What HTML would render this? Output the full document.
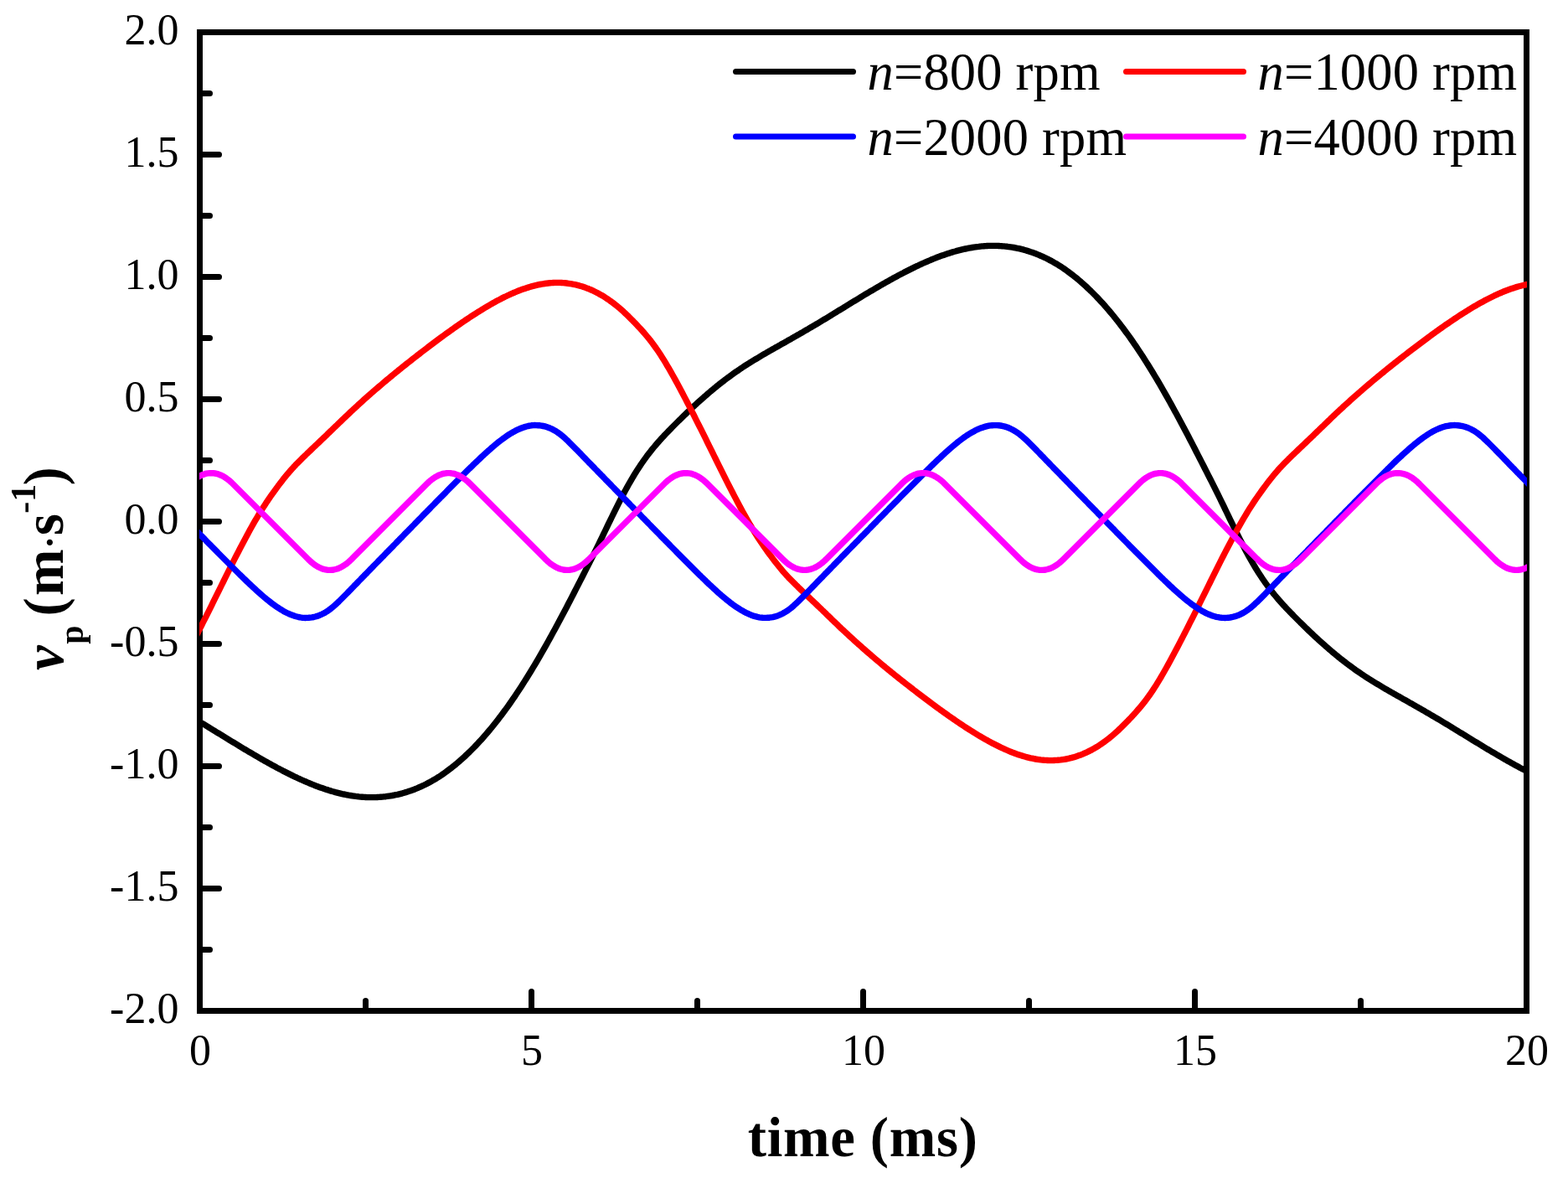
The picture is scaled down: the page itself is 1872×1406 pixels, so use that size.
<!DOCTYPE html>
<html lang="en"><head><meta charset="utf-8"><title>Piston velocity vs time</title>
<style>html,body{margin:0;padding:0;background:#fff;overflow:hidden}svg{display:block}text{font-family:"Liberation Serif","DejaVu Serif",serif;fill:#000}.tk{font-size:52px}.lg{font-size:62.5px}.ti{font-size:66.7px;font-weight:bold}</style></head><body>
<svg width="1872" height="1406" viewBox="0 0 1872 1406">
<rect x="0" y="0" width="1872" height="1406" fill="#fff"/>
<g stroke="#000" stroke-width="7" stroke-linecap="round" fill="none">
<line x1="436.50" y1="1206.5" x2="436.50" y2="1194.50"/>
<line x1="634.50" y1="1206.5" x2="634.50" y2="1183.50"/>
<line x1="832.50" y1="1206.5" x2="832.50" y2="1194.50"/>
<line x1="1030.50" y1="1206.5" x2="1030.50" y2="1183.50"/>
<line x1="1228.50" y1="1206.5" x2="1228.50" y2="1194.50"/>
<line x1="1426.50" y1="1206.5" x2="1426.50" y2="1183.50"/>
<line x1="1624.50" y1="1206.5" x2="1624.50" y2="1194.50"/>
<line x1="238.5" y1="111.50" x2="250.50" y2="111.50"/>
<line x1="238.5" y1="184.50" x2="261.50" y2="184.50"/>
<line x1="238.5" y1="257.50" x2="250.50" y2="257.50"/>
<line x1="238.5" y1="330.50" x2="261.50" y2="330.50"/>
<line x1="238.5" y1="403.50" x2="250.50" y2="403.50"/>
<line x1="238.5" y1="476.50" x2="261.50" y2="476.50"/>
<line x1="238.5" y1="549.50" x2="250.50" y2="549.50"/>
<line x1="238.5" y1="622.50" x2="261.50" y2="622.50"/>
<line x1="238.5" y1="695.50" x2="250.50" y2="695.50"/>
<line x1="238.5" y1="768.50" x2="261.50" y2="768.50"/>
<line x1="238.5" y1="841.50" x2="250.50" y2="841.50"/>
<line x1="238.5" y1="914.50" x2="261.50" y2="914.50"/>
<line x1="238.5" y1="987.50" x2="250.50" y2="987.50"/>
<line x1="238.5" y1="1060.50" x2="261.50" y2="1060.50"/>
<line x1="238.5" y1="1133.50" x2="250.50" y2="1133.50"/>
</g>
<rect x="238.5" y="38.5" width="1584.0" height="1168.0" fill="none" stroke="#000" stroke-width="7"/>
<defs><clipPath id="pa"><rect x="238" y="38.5" width="1585" height="1168.0"/></clipPath></defs>
<g clip-path="url(#pa)" fill="none" stroke-width="7.4" stroke-linejoin="round" stroke-linecap="butt">
<path d="M234.5 859.2L236.5 860.4L238.5 861.6L240.5 862.8L242.5 864.0L244.5 865.2L246.5 866.4L248.5 867.6L250.5 868.9L252.5 870.1L254.5 871.3L256.5 872.5L258.5 873.8L260.5 875.0L262.5 876.2L264.5 877.4L266.5 878.7L268.5 879.9L270.5 881.1L272.5 882.3L274.5 883.6L276.5 884.8L278.5 886.0L280.5 887.2L282.5 888.4L284.5 889.6L286.5 890.9L288.5 892.1L290.5 893.3L292.5 894.5L294.5 895.7L296.5 896.9L298.5 898.0L300.5 899.2L302.5 900.4L304.5 901.6L306.5 902.7L308.5 903.9L310.5 905.1L312.5 906.2L314.5 907.3L316.5 908.5L318.5 909.6L320.5 910.7L322.5 911.8L324.5 912.9L326.5 914.0L328.5 915.1L330.5 916.2L332.5 917.2L334.5 918.3L336.5 919.3L338.5 920.4L340.5 921.4L342.5 922.4L344.5 923.4L346.5 924.4L348.5 925.4L350.5 926.4L352.5 927.3L354.5 928.2L356.5 929.2L358.5 930.1L360.5 931.0L362.5 931.9L364.5 932.7L366.5 933.6L368.5 934.4L370.5 935.3L372.5 936.1L374.5 936.9L376.5 937.7L378.5 938.4L380.5 939.2L382.5 939.9L384.5 940.6L386.5 941.3L388.5 942.0L390.5 942.6L392.5 943.3L394.5 943.9L396.5 944.5L398.5 945.0L400.5 945.6L402.5 946.1L404.5 946.6L406.5 947.1L408.5 947.6L410.5 948.0L412.5 948.4L414.5 948.8L416.5 949.2L418.5 949.5L420.5 949.8L422.5 950.1L424.5 950.4L426.5 950.6L428.5 950.9L430.5 951.1L432.5 951.2L434.5 951.4L436.5 951.5L438.5 951.6L440.5 951.6L442.5 951.6L444.5 951.6L446.5 951.6L448.5 951.6L450.5 951.5L452.5 951.4L454.5 951.2L456.5 951.1L458.5 950.9L460.5 950.7L462.5 950.4L464.5 950.1L466.5 949.8L468.5 949.5L470.5 949.1L472.5 948.7L474.5 948.3L476.5 947.8L478.5 947.3L480.5 946.8L482.5 946.2L484.5 945.6L486.5 945.0L488.5 944.3L490.5 943.7L492.5 942.9L494.5 942.2L496.5 941.4L498.5 940.6L500.5 939.7L502.5 938.8L504.5 937.9L506.5 937.0L508.5 936.0L510.5 934.9L512.5 933.9L514.5 932.8L516.5 931.6L518.5 930.5L520.5 929.3L522.5 928.0L524.5 926.8L526.5 925.5L528.5 924.1L530.5 922.7L532.5 921.3L534.5 919.8L536.5 918.3L538.5 916.8L540.5 915.2L542.5 913.6L544.5 912.0L546.5 910.3L548.5 908.6L550.5 906.8L552.5 905.0L554.5 903.2L556.5 901.3L558.5 899.4L560.5 897.5L562.5 895.5L564.5 893.5L566.5 891.5L568.5 889.4L570.5 887.3L572.5 885.1L574.5 882.9L576.5 880.7L578.5 878.4L580.5 876.1L582.5 873.8L584.5 871.4L586.5 869.0L588.5 866.5L590.5 864.0L592.5 861.5L594.5 858.9L596.5 856.3L598.5 853.7L600.5 851.0L602.5 848.3L604.5 845.6L606.5 842.8L608.5 840.0L610.5 837.1L612.5 834.2L614.5 831.3L616.5 828.3L618.5 825.3L620.5 822.3L622.5 819.2L624.5 816.1L626.5 812.9L628.5 809.7L630.5 806.5L632.5 803.3L634.5 800.0L636.5 796.7L638.5 793.3L640.5 790.0L642.5 786.6L644.5 783.1L646.5 779.7L648.5 776.2L650.5 772.6L652.5 769.1L654.5 765.5L656.5 761.9L658.5 758.3L660.5 754.6L662.5 751.0L664.5 747.3L666.5 743.6L668.5 739.8L670.5 736.1L672.5 732.3L674.5 728.5L676.5 724.7L678.5 720.8L680.5 717.0L682.5 713.1L684.5 709.2L686.5 705.3L688.5 701.4L690.5 697.5L692.5 693.6L694.5 689.7L696.5 685.8L698.5 681.9L700.5 677.9L702.5 674.0L704.5 670.1L706.5 666.1L708.5 662.1L710.5 658.1L712.5 654.1L714.5 650.0L716.5 645.9L718.5 641.8L720.5 637.6L722.5 633.5L724.5 629.3L726.5 625.2L728.5 621.1L730.5 617.0L732.5 612.9L734.5 608.9L736.5 604.9L738.5 600.9L740.5 597.0L742.5 593.1L744.5 589.3L746.5 585.5L748.5 581.9L750.5 578.3L752.5 574.8L754.5 571.3L756.5 568.0L758.5 564.7L760.5 561.6L762.5 558.5L764.5 555.4L766.5 552.5L768.5 549.6L770.5 546.9L772.5 544.1L774.5 541.5L776.5 538.9L778.5 536.4L780.5 534.0L782.5 531.6L784.5 529.3L786.5 527.0L788.5 524.8L790.5 522.6L792.5 520.4L794.5 518.3L796.5 516.2L798.5 514.1L800.5 512.1L802.5 510.0L804.5 508.0L806.5 506.0L808.5 504.0L810.5 502.0L812.5 500.1L814.5 498.1L816.5 496.1L818.5 494.2L820.5 492.3L822.5 490.4L824.5 488.5L826.5 486.6L828.5 484.8L830.5 482.9L832.5 481.1L834.5 479.3L836.5 477.5L838.5 475.7L840.5 473.9L842.5 472.2L844.5 470.4L846.5 468.7L848.5 467.0L850.5 465.4L852.5 463.7L854.5 462.1L856.5 460.4L858.5 458.8L860.5 457.3L862.5 455.7L864.5 454.2L866.5 452.6L868.5 451.1L870.5 449.7L872.5 448.2L874.5 446.8L876.5 445.3L878.5 443.9L880.5 442.6L882.5 441.2L884.5 439.8L886.5 438.5L888.5 437.2L890.5 435.9L892.5 434.6L894.5 433.4L896.5 432.1L898.5 430.9L900.5 429.7L902.5 428.5L904.5 427.3L906.5 426.1L908.5 424.9L910.5 423.7L912.5 422.5L914.5 421.4L916.5 420.2L918.5 419.1L920.5 417.9L922.5 416.8L924.5 415.7L926.5 414.5L928.5 413.4L930.5 412.3L932.5 411.1L934.5 410.0L936.5 408.9L938.5 407.8L940.5 406.6L942.5 405.5L944.5 404.4L946.5 403.2L948.5 402.1L950.5 400.9L952.5 399.8L954.5 398.7L956.5 397.5L958.5 396.4L960.5 395.2L962.5 394.0L964.5 392.9L966.5 391.7L968.5 390.5L970.5 389.3L972.5 388.2L974.5 387.0L976.5 385.8L978.5 384.6L980.5 383.4L982.5 382.2L984.5 381.0L986.5 379.8L988.5 378.6L990.5 377.4L992.5 376.1L994.5 374.9L996.5 373.7L998.5 372.5L1000.5 371.2L1002.5 370.0L1004.5 368.8L1006.5 367.6L1008.5 366.3L1010.5 365.1L1012.5 363.9L1014.5 362.7L1016.5 361.4L1018.5 360.2L1020.5 359.0L1022.5 357.8L1024.5 356.6L1026.5 355.4L1028.5 354.1L1030.5 352.9L1032.5 351.7L1034.5 350.5L1036.5 349.3L1038.5 348.1L1040.5 347.0L1042.5 345.8L1044.5 344.6L1046.5 343.4L1048.5 342.3L1050.5 341.1L1052.5 339.9L1054.5 338.8L1056.5 337.7L1058.5 336.5L1060.5 335.4L1062.5 334.3L1064.5 333.2L1066.5 332.1L1068.5 331.0L1070.5 329.9L1072.5 328.8L1074.5 327.8L1076.5 326.7L1078.5 325.7L1080.5 324.6L1082.5 323.6L1084.5 322.6L1086.5 321.6L1088.5 320.6L1090.5 319.6L1092.5 318.6L1094.5 317.7L1096.5 316.8L1098.5 315.8L1100.5 314.9L1102.5 314.0L1104.5 313.1L1106.5 312.3L1108.5 311.4L1110.5 310.6L1112.5 309.7L1114.5 308.9L1116.5 308.1L1118.5 307.3L1120.5 306.6L1122.5 305.8L1124.5 305.1L1126.5 304.4L1128.5 303.7L1130.5 303.0L1132.5 302.4L1134.5 301.7L1136.5 301.1L1138.5 300.5L1140.5 300.0L1142.5 299.4L1144.5 298.9L1146.5 298.4L1148.5 297.9L1150.5 297.4L1152.5 297.0L1154.5 296.6L1156.5 296.2L1158.5 295.8L1160.5 295.5L1162.5 295.2L1164.5 294.9L1166.5 294.6L1168.5 294.4L1170.5 294.1L1172.5 293.9L1174.5 293.8L1176.5 293.6L1178.5 293.5L1180.5 293.4L1182.5 293.4L1184.5 293.4L1186.5 293.4L1188.5 293.4L1190.5 293.4L1192.5 293.5L1194.5 293.6L1196.5 293.8L1198.5 293.9L1200.5 294.1L1202.5 294.3L1204.5 294.6L1206.5 294.9L1208.5 295.2L1210.5 295.5L1212.5 295.9L1214.5 296.3L1216.5 296.7L1218.5 297.2L1220.5 297.7L1222.5 298.2L1224.5 298.8L1226.5 299.4L1228.5 300.0L1230.5 300.7L1232.5 301.3L1234.5 302.1L1236.5 302.8L1238.5 303.6L1240.5 304.4L1242.5 305.3L1244.5 306.2L1246.5 307.1L1248.5 308.0L1250.5 309.0L1252.5 310.1L1254.5 311.1L1256.5 312.2L1258.5 313.4L1260.5 314.5L1262.5 315.7L1264.5 317.0L1266.5 318.2L1268.5 319.5L1270.5 320.9L1272.5 322.3L1274.5 323.7L1276.5 325.2L1278.5 326.7L1280.5 328.2L1282.5 329.8L1284.5 331.4L1286.5 333.0L1288.5 334.7L1290.5 336.4L1292.5 338.2L1294.5 340.0L1296.5 341.8L1298.5 343.7L1300.5 345.6L1302.5 347.5L1304.5 349.5L1306.5 351.5L1308.5 353.5L1310.5 355.6L1312.5 357.7L1314.5 359.9L1316.5 362.1L1318.5 364.3L1320.5 366.6L1322.5 368.9L1324.5 371.2L1326.5 373.6L1328.5 376.0L1330.5 378.5L1332.5 381.0L1334.5 383.5L1336.5 386.1L1338.5 388.7L1340.5 391.3L1342.5 394.0L1344.5 396.7L1346.5 399.4L1348.5 402.2L1350.5 405.0L1352.5 407.9L1354.5 410.8L1356.5 413.7L1358.5 416.7L1360.5 419.7L1362.5 422.7L1364.5 425.8L1366.5 428.9L1368.5 432.1L1370.5 435.3L1372.5 438.5L1374.5 441.7L1376.5 445.0L1378.5 448.3L1380.5 451.7L1382.5 455.0L1384.5 458.4L1386.5 461.9L1388.5 465.3L1390.5 468.8L1392.5 472.4L1394.5 475.9L1396.5 479.5L1398.5 483.1L1400.5 486.7L1402.5 490.4L1404.5 494.0L1406.5 497.7L1408.5 501.4L1410.5 505.2L1412.5 508.9L1414.5 512.7L1416.5 516.5L1418.5 520.3L1420.5 524.2L1422.5 528.0L1424.5 531.9L1426.5 535.8L1428.5 539.7L1430.5 543.6L1432.5 547.5L1434.5 551.4L1436.5 555.3L1438.5 559.2L1440.5 563.1L1442.5 567.1L1444.5 571.0L1446.5 574.9L1448.5 578.9L1450.5 582.9L1452.5 586.9L1454.5 590.9L1456.5 595.0L1458.5 599.1L1460.5 603.2L1462.5 607.4L1464.5 611.5L1466.5 615.7L1468.5 619.8L1470.5 623.9L1472.5 628.0L1474.5 632.1L1476.5 636.1L1478.5 640.1L1480.5 644.1L1482.5 648.0L1484.5 651.9L1486.5 655.7L1488.5 659.5L1490.5 663.1L1492.5 666.7L1494.5 670.2L1496.5 673.7L1498.5 677.0L1500.5 680.3L1502.5 683.4L1504.5 686.5L1506.5 689.6L1508.5 692.5L1510.5 695.4L1512.5 698.1L1514.5 700.9L1516.5 703.5L1518.5 706.1L1520.5 708.6L1522.5 711.0L1524.5 713.4L1526.5 715.7L1528.5 718.0L1530.5 720.2L1532.5 722.4L1534.5 724.6L1536.5 726.7L1538.5 728.8L1540.5 730.9L1542.5 732.9L1544.5 735.0L1546.5 737.0L1548.5 739.0L1550.5 741.0L1552.5 743.0L1554.5 744.9L1556.5 746.9L1558.5 748.9L1560.5 750.8L1562.5 752.7L1564.5 754.6L1566.5 756.5L1568.5 758.4L1570.5 760.2L1572.5 762.1L1574.5 763.9L1576.5 765.7L1578.5 767.5L1580.5 769.3L1582.5 771.1L1584.5 772.8L1586.5 774.6L1588.5 776.3L1590.5 778.0L1592.5 779.6L1594.5 781.3L1596.5 782.9L1598.5 784.6L1600.5 786.2L1602.5 787.7L1604.5 789.3L1606.5 790.8L1608.5 792.4L1610.5 793.9L1612.5 795.3L1614.5 796.8L1616.5 798.2L1618.5 799.7L1620.5 801.1L1622.5 802.4L1624.5 803.8L1626.5 805.2L1628.5 806.5L1630.5 807.8L1632.5 809.1L1634.5 810.4L1636.5 811.6L1638.5 812.9L1640.5 814.1L1642.5 815.3L1644.5 816.5L1646.5 817.7L1648.5 818.9L1650.5 820.1L1652.5 821.3L1654.5 822.5L1656.5 823.6L1658.5 824.8L1660.5 825.9L1662.5 827.1L1664.5 828.2L1666.5 829.3L1668.5 830.5L1670.5 831.6L1672.5 832.7L1674.5 833.9L1676.5 835.0L1678.5 836.1L1680.5 837.2L1682.5 838.4L1684.5 839.5L1686.5 840.6L1688.5 841.8L1690.5 842.9L1692.5 844.1L1694.5 845.2L1696.5 846.3L1698.5 847.5L1700.5 848.6L1702.5 849.8L1704.5 851.0L1706.5 852.1L1708.5 853.3L1710.5 854.5L1712.5 855.7L1714.5 856.8L1716.5 858.0L1718.5 859.2L1720.5 860.4L1722.5 861.6L1724.5 862.8L1726.5 864.0L1728.5 865.2L1730.5 866.4L1732.5 867.6L1734.5 868.9L1736.5 870.1L1738.5 871.3L1740.5 872.5L1742.5 873.8L1744.5 875.0L1746.5 876.2L1748.5 877.4L1750.5 878.7L1752.5 879.9L1754.5 881.1L1756.5 882.3L1758.5 883.6L1760.5 884.8L1762.5 886.0L1764.5 887.2L1766.5 888.4L1768.5 889.6L1770.5 890.9L1772.5 892.1L1774.5 893.3L1776.5 894.5L1778.5 895.7L1780.5 896.9L1782.5 898.0L1784.5 899.2L1786.5 900.4L1788.5 901.6L1790.5 902.7L1792.5 903.9L1794.5 905.1L1796.5 906.2L1798.5 907.3L1800.5 908.5L1802.5 909.6L1804.5 910.7L1806.5 911.8L1808.5 912.9L1810.5 914.0L1812.5 915.1L1814.5 916.2L1816.5 917.2L1818.5 918.3L1820.5 919.3L1822.5 920.4L1824.5 921.4L1826.5 922.4" stroke="#000000"/>
<path d="M234.5 758.4L236.5 754.5L238.5 750.6L240.5 746.7L242.5 742.7L244.5 738.8L246.5 734.8L248.5 730.8L250.5 726.8L252.5 722.8L254.5 718.7L256.5 714.7L258.5 710.7L260.5 706.6L262.5 702.6L264.5 698.5L266.5 694.5L268.5 690.4L270.5 686.4L272.5 682.3L274.5 678.3L276.5 674.3L278.5 670.4L280.5 666.4L282.5 662.5L284.5 658.7L286.5 654.8L288.5 651.0L290.5 647.2L292.5 643.5L294.5 639.7L296.5 636.0L298.5 632.3L300.5 628.7L302.5 625.2L304.5 621.7L306.5 618.3L308.5 614.9L310.5 611.6L312.5 608.4L314.5 605.3L316.5 602.2L318.5 599.1L320.5 596.2L322.5 593.2L324.5 590.4L326.5 587.6L328.5 584.8L330.5 582.1L332.5 579.4L334.5 576.8L336.5 574.2L338.5 571.6L340.5 569.1L342.5 566.7L344.5 564.3L346.5 562.0L348.5 559.7L350.5 557.6L352.5 555.4L354.5 553.3L356.5 551.3L358.5 549.3L360.5 547.3L362.5 545.4L364.5 543.5L366.5 541.5L368.5 539.6L370.5 537.7L372.5 535.8L374.5 533.9L376.5 532.0L378.5 530.1L380.5 528.2L382.5 526.3L384.5 524.4L386.5 522.5L388.5 520.6L390.5 518.7L392.5 516.7L394.5 514.8L396.5 512.9L398.5 510.9L400.5 509.0L402.5 507.1L404.5 505.1L406.5 503.2L408.5 501.3L410.5 499.4L412.5 497.5L414.5 495.6L416.5 493.7L418.5 491.8L420.5 489.9L422.5 488.1L424.5 486.2L426.5 484.4L428.5 482.5L430.5 480.7L432.5 478.9L434.5 477.1L436.5 475.3L438.5 473.6L440.5 471.8L442.5 470.0L444.5 468.3L446.5 466.5L448.5 464.8L450.5 463.1L452.5 461.4L454.5 459.7L456.5 458.0L458.5 456.3L460.5 454.6L462.5 452.9L464.5 451.3L466.5 449.6L468.5 448.0L470.5 446.3L472.5 444.7L474.5 443.1L476.5 441.4L478.5 439.8L480.5 438.2L482.5 436.6L484.5 435.0L486.5 433.4L488.5 431.9L490.5 430.3L492.5 428.7L494.5 427.1L496.5 425.6L498.5 424.0L500.5 422.5L502.5 420.9L504.5 419.4L506.5 417.9L508.5 416.4L510.5 414.8L512.5 413.3L514.5 411.8L516.5 410.3L518.5 408.8L520.5 407.3L522.5 405.8L524.5 404.3L526.5 402.8L528.5 401.4L530.5 399.9L532.5 398.4L534.5 397.0L536.5 395.6L538.5 394.1L540.5 392.7L542.5 391.3L544.5 389.9L546.5 388.5L548.5 387.1L550.5 385.7L552.5 384.3L554.5 383.0L556.5 381.6L558.5 380.3L560.5 379.0L562.5 377.7L564.5 376.4L566.5 375.1L568.5 373.8L570.5 372.5L572.5 371.3L574.5 370.1L576.5 368.8L578.5 367.6L580.5 366.4L582.5 365.3L584.5 364.1L586.5 362.9L588.5 361.8L590.5 360.7L592.5 359.6L594.5 358.5L596.5 357.5L598.5 356.4L600.5 355.4L602.5 354.4L604.5 353.5L606.5 352.5L608.5 351.6L610.5 350.7L612.5 349.8L614.5 349.0L616.5 348.1L618.5 347.3L620.5 346.5L622.5 345.8L624.5 345.1L626.5 344.4L628.5 343.7L630.5 343.1L632.5 342.5L634.5 341.9L636.5 341.4L638.5 340.9L640.5 340.4L642.5 339.9L644.5 339.5L646.5 339.1L648.5 338.8L650.5 338.5L652.5 338.2L654.5 338.0L656.5 337.8L658.5 337.6L660.5 337.5L662.5 337.4L664.5 337.4L666.5 337.4L668.5 337.4L670.5 337.5L672.5 337.6L674.5 337.8L676.5 338.0L678.5 338.3L680.5 338.6L682.5 338.9L684.5 339.3L686.5 339.7L688.5 340.1L690.5 340.6L692.5 341.2L694.5 341.8L696.5 342.4L698.5 343.1L700.5 343.9L702.5 344.6L704.5 345.5L706.5 346.3L708.5 347.2L710.5 348.2L712.5 349.2L714.5 350.3L716.5 351.4L718.5 352.5L720.5 353.7L722.5 355.0L724.5 356.3L726.5 357.6L728.5 359.1L730.5 360.5L732.5 362.0L734.5 363.6L736.5 365.2L738.5 366.8L740.5 368.5L742.5 370.3L744.5 372.1L746.5 374.0L748.5 375.9L750.5 377.8L752.5 379.8L754.5 381.8L756.5 383.9L758.5 385.9L760.5 388.0L762.5 390.2L764.5 392.3L766.5 394.5L768.5 396.8L770.5 399.1L772.5 401.5L774.5 403.9L776.5 406.4L778.5 409.0L780.5 411.7L782.5 414.5L784.5 417.3L786.5 420.3L788.5 423.3L790.5 426.4L792.5 429.6L794.5 432.9L796.5 436.3L798.5 439.7L800.5 443.1L802.5 446.7L804.5 450.3L806.5 453.9L808.5 457.6L810.5 461.3L812.5 465.0L814.5 468.8L816.5 472.6L818.5 476.4L820.5 480.3L822.5 484.1L824.5 488.0L826.5 491.9L828.5 495.8L830.5 499.8L832.5 503.8L834.5 507.7L836.5 511.7L838.5 515.7L840.5 519.7L842.5 523.7L844.5 527.8L846.5 531.8L848.5 535.8L850.5 539.9L852.5 544.0L854.5 548.0L856.5 552.1L858.5 556.1L860.5 560.2L862.5 564.2L864.5 568.2L866.5 572.2L868.5 576.1L870.5 580.0L872.5 583.9L874.5 587.8L876.5 591.6L878.5 595.4L880.5 599.2L882.5 602.9L884.5 606.7L886.5 610.4L888.5 614.0L890.5 617.6L892.5 621.1L894.5 624.6L896.5 628.0L898.5 631.3L900.5 634.6L902.5 637.8L904.5 640.9L906.5 644.0L908.5 647.0L910.5 649.9L912.5 652.8L914.5 655.7L916.5 658.5L918.5 661.2L920.5 663.9L922.5 666.6L924.5 669.2L926.5 671.8L928.5 674.3L930.5 676.8L932.5 679.2L934.5 681.6L936.5 683.9L938.5 686.1L940.5 688.2L942.5 690.4L944.5 692.4L946.5 694.4L948.5 696.4L950.5 698.4L952.5 700.3L954.5 702.3L956.5 704.2L958.5 706.1L960.5 708.0L962.5 709.9L964.5 711.8L966.5 713.7L968.5 715.6L970.5 717.5L972.5 719.4L974.5 721.3L976.5 723.2L978.5 725.1L980.5 727.0L982.5 729.0L984.5 730.9L986.5 732.8L988.5 734.8L990.5 736.7L992.5 738.7L994.5 740.6L996.5 742.5L998.5 744.4L1000.5 746.3L1002.5 748.3L1004.5 750.2L1006.5 752.0L1008.5 753.9L1010.5 755.8L1012.5 757.6L1014.5 759.5L1016.5 761.3L1018.5 763.1L1020.5 765.0L1022.5 766.8L1024.5 768.6L1026.5 770.3L1028.5 772.1L1030.5 773.9L1032.5 775.6L1034.5 777.4L1036.5 779.1L1038.5 780.8L1040.5 782.6L1042.5 784.3L1044.5 786.0L1046.5 787.7L1048.5 789.3L1050.5 791.0L1052.5 792.7L1054.5 794.4L1056.5 796.0L1058.5 797.7L1060.5 799.3L1062.5 800.9L1064.5 802.6L1066.5 804.2L1068.5 805.8L1070.5 807.4L1072.5 809.0L1074.5 810.6L1076.5 812.2L1078.5 813.7L1080.5 815.3L1082.5 816.9L1084.5 818.4L1086.5 820.0L1088.5 821.5L1090.5 823.1L1092.5 824.6L1094.5 826.2L1096.5 827.7L1098.5 829.2L1100.5 830.7L1102.5 832.3L1104.5 833.8L1106.5 835.3L1108.5 836.8L1110.5 838.3L1112.5 839.8L1114.5 841.2L1116.5 842.7L1118.5 844.2L1120.5 845.6L1122.5 847.1L1124.5 848.5L1126.5 850.0L1128.5 851.4L1130.5 852.8L1132.5 854.3L1134.5 855.7L1136.5 857.0L1138.5 858.4L1140.5 859.8L1142.5 861.2L1144.5 862.5L1146.5 863.9L1148.5 865.2L1150.5 866.5L1152.5 867.8L1154.5 869.1L1156.5 870.4L1158.5 871.7L1160.5 872.9L1162.5 874.2L1164.5 875.4L1166.5 876.6L1168.5 877.8L1170.5 879.0L1172.5 880.2L1174.5 881.3L1176.5 882.5L1178.5 883.6L1180.5 884.7L1182.5 885.8L1184.5 886.9L1186.5 887.9L1188.5 888.9L1190.5 889.9L1192.5 890.9L1194.5 891.9L1196.5 892.8L1198.5 893.8L1200.5 894.6L1202.5 895.5L1204.5 896.4L1206.5 897.2L1208.5 898.0L1210.5 898.7L1212.5 899.5L1214.5 900.2L1216.5 900.9L1218.5 901.5L1220.5 902.1L1222.5 902.7L1224.5 903.3L1226.5 903.8L1228.5 904.3L1230.5 904.8L1232.5 905.2L1234.5 905.6L1236.5 906.0L1238.5 906.3L1240.5 906.6L1242.5 906.9L1244.5 907.1L1246.5 907.3L1248.5 907.4L1250.5 907.5L1252.5 907.6L1254.5 907.6L1256.5 907.6L1258.5 907.5L1260.5 907.4L1262.5 907.3L1264.5 907.1L1266.5 906.9L1268.5 906.6L1270.5 906.3L1272.5 906.0L1274.5 905.6L1276.5 905.2L1278.5 904.7L1280.5 904.1L1282.5 903.6L1284.5 903.0L1286.5 902.3L1288.5 901.6L1290.5 900.9L1292.5 900.1L1294.5 899.2L1296.5 898.3L1298.5 897.4L1300.5 896.4L1302.5 895.4L1304.5 894.3L1306.5 893.2L1308.5 892.0L1310.5 890.8L1312.5 889.5L1314.5 888.2L1316.5 886.8L1318.5 885.4L1320.5 883.9L1322.5 882.4L1324.5 880.8L1326.5 879.2L1328.5 877.5L1330.5 875.8L1332.5 874.0L1334.5 872.2L1336.5 870.3L1338.5 868.4L1340.5 866.4L1342.5 864.4L1344.5 862.4L1346.5 860.4L1348.5 858.3L1350.5 856.2L1352.5 854.0L1354.5 851.9L1356.5 849.6L1358.5 847.3L1360.5 845.0L1362.5 842.6L1364.5 840.1L1366.5 837.6L1368.5 835.0L1370.5 832.3L1372.5 829.5L1374.5 826.6L1376.5 823.6L1378.5 820.5L1380.5 817.4L1382.5 814.1L1384.5 810.8L1386.5 807.5L1388.5 804.0L1390.5 800.5L1392.5 797.0L1394.5 793.4L1396.5 789.7L1398.5 786.0L1400.5 782.3L1402.5 778.6L1404.5 774.8L1406.5 771.0L1408.5 767.1L1410.5 763.3L1412.5 759.4L1414.5 755.5L1416.5 751.6L1418.5 747.7L1420.5 743.7L1422.5 739.8L1424.5 735.8L1426.5 731.8L1428.5 727.8L1430.5 723.8L1432.5 719.7L1434.5 715.7L1436.5 711.7L1438.5 707.6L1440.5 703.6L1442.5 699.5L1444.5 695.5L1446.5 691.4L1448.5 687.4L1450.5 683.3L1452.5 679.3L1454.5 675.3L1456.5 671.4L1458.5 667.4L1460.5 663.5L1462.5 659.6L1464.5 655.8L1466.5 652.0L1468.5 648.2L1470.5 644.4L1472.5 640.6L1474.5 636.9L1476.5 633.2L1478.5 629.6L1480.5 626.1L1482.5 622.6L1484.5 619.1L1486.5 615.8L1488.5 612.5L1490.5 609.2L1492.5 606.0L1494.5 602.9L1496.5 599.9L1498.5 596.9L1500.5 594.0L1502.5 591.1L1504.5 588.3L1506.5 585.5L1508.5 582.8L1510.5 580.1L1512.5 577.4L1514.5 574.8L1516.5 572.3L1518.5 569.8L1520.5 567.3L1522.5 564.9L1524.5 562.6L1526.5 560.3L1528.5 558.1L1530.5 556.0L1532.5 553.9L1534.5 551.8L1536.5 549.8L1538.5 547.8L1540.5 545.9L1542.5 543.9L1544.5 542.0L1546.5 540.1L1548.5 538.2L1550.5 536.3L1552.5 534.4L1554.5 532.5L1556.5 530.6L1558.5 528.7L1560.5 526.8L1562.5 524.9L1564.5 523.0L1566.5 521.1L1568.5 519.2L1570.5 517.2L1572.5 515.3L1574.5 513.4L1576.5 511.4L1578.5 509.5L1580.5 507.6L1582.5 505.6L1584.5 503.7L1586.5 501.8L1588.5 499.8L1590.5 497.9L1592.5 496.0L1594.5 494.1L1596.5 492.3L1598.5 490.4L1600.5 488.5L1602.5 486.7L1604.5 484.8L1606.5 483.0L1608.5 481.2L1610.5 479.4L1612.5 477.6L1614.5 475.8L1616.5 474.0L1618.5 472.2L1620.5 470.5L1622.5 468.7L1624.5 467.0L1626.5 465.2L1628.5 463.5L1630.5 461.8L1632.5 460.1L1634.5 458.4L1636.5 456.7L1638.5 455.0L1640.5 453.3L1642.5 451.7L1644.5 450.0L1646.5 448.4L1648.5 446.7L1650.5 445.1L1652.5 443.5L1654.5 441.8L1656.5 440.2L1658.5 438.6L1660.5 437.0L1662.5 435.4L1664.5 433.8L1666.5 432.3L1668.5 430.7L1670.5 429.1L1672.5 427.5L1674.5 426.0L1676.5 424.4L1678.5 422.9L1680.5 421.3L1682.5 419.8L1684.5 418.3L1686.5 416.7L1688.5 415.2L1690.5 413.7L1692.5 412.2L1694.5 410.7L1696.5 409.2L1698.5 407.7L1700.5 406.2L1702.5 404.7L1704.5 403.2L1706.5 401.7L1708.5 400.3L1710.5 398.8L1712.5 397.4L1714.5 395.9L1716.5 394.5L1718.5 393.0L1720.5 391.6L1722.5 390.2L1724.5 388.8L1726.5 387.4L1728.5 386.1L1730.5 384.7L1732.5 383.3L1734.5 382.0L1736.5 380.6L1738.5 379.3L1740.5 378.0L1742.5 376.7L1744.5 375.4L1746.5 374.1L1748.5 372.9L1750.5 371.6L1752.5 370.4L1754.5 369.1L1756.5 367.9L1758.5 366.7L1760.5 365.5L1762.5 364.4L1764.5 363.2L1766.5 362.1L1768.5 361.0L1770.5 359.9L1772.5 358.8L1774.5 357.7L1776.5 356.7L1778.5 355.7L1780.5 354.7L1782.5 353.7L1784.5 352.7L1786.5 351.8L1788.5 350.9L1790.5 350.0L1792.5 349.2L1794.5 348.3L1796.5 347.5L1798.5 346.7L1800.5 346.0L1802.5 345.3L1804.5 344.6L1806.5 343.9L1808.5 343.2L1810.5 342.6L1812.5 342.0L1814.5 341.5L1816.5 341.0L1818.5 340.5L1820.5 340.0L1822.5 339.6L1824.5 339.2L1826.5 338.9" stroke="#ff0000"/>
<path d="M234.5 633.5L236.5 635.6L238.5 637.6L240.5 639.7L242.5 641.7L244.5 643.7L246.5 645.8L248.5 647.8L250.5 649.8L252.5 651.9L254.5 653.9L256.5 655.9L258.5 657.9L260.5 660.0L262.5 662.0L264.5 664.0L266.5 666.0L268.5 668.0L270.5 670.0L272.5 672.0L274.5 674.0L276.5 676.0L278.5 678.0L280.5 680.0L282.5 682.0L284.5 684.0L286.5 686.0L288.5 687.9L290.5 689.9L292.5 691.8L294.5 693.7L296.5 695.6L298.5 697.5L300.5 699.4L302.5 701.3L304.5 703.1L306.5 704.9L308.5 706.7L310.5 708.5L312.5 710.3L314.5 712.0L316.5 713.7L318.5 715.3L320.5 716.9L322.5 718.5L324.5 720.1L326.5 721.5L328.5 723.0L330.5 724.4L332.5 725.7L334.5 727.0L336.5 728.2L338.5 729.4L340.5 730.5L342.5 731.5L344.5 732.4L346.5 733.3L348.5 734.1L350.5 734.8L352.5 735.5L354.5 736.0L356.5 736.5L358.5 736.9L360.5 737.2L362.5 737.4L364.5 737.5L366.5 737.4L368.5 737.3L370.5 737.1L372.5 736.9L374.5 736.5L376.5 736.0L378.5 735.4L380.5 734.7L382.5 733.9L384.5 733.0L386.5 732.0L388.5 730.9L390.5 729.7L392.5 728.3L394.5 726.8L396.5 725.2L398.5 723.5L400.5 721.8L402.5 719.9L404.5 718.0L406.5 716.0L408.5 714.0L410.5 712.0L412.5 710.0L414.5 708.0L416.5 705.9L418.5 703.9L420.5 701.8L422.5 699.7L424.5 697.7L426.5 695.6L428.5 693.5L430.5 691.5L432.5 689.4L434.5 687.4L436.5 685.3L438.5 683.3L440.5 681.2L442.5 679.1L444.5 677.1L446.5 675.0L448.5 673.0L450.5 671.0L452.5 668.9L454.5 666.9L456.5 664.8L458.5 662.8L460.5 660.7L462.5 658.7L464.5 656.6L466.5 654.6L468.5 652.6L470.5 650.5L472.5 648.5L474.5 646.4L476.5 644.4L478.5 642.3L480.5 640.3L482.5 638.2L484.5 636.2L486.5 634.2L488.5 632.1L490.5 630.1L492.5 628.0L494.5 626.0L496.5 623.9L498.5 621.9L500.5 619.8L502.5 617.8L504.5 615.7L506.5 613.7L508.5 611.7L510.5 609.6L512.5 607.6L514.5 605.5L516.5 603.5L518.5 601.5L520.5 599.4L522.5 597.4L524.5 595.4L526.5 593.3L528.5 591.3L530.5 589.3L532.5 587.3L534.5 585.2L536.5 583.2L538.5 581.2L540.5 579.2L542.5 577.2L544.5 575.2L546.5 573.2L548.5 571.2L550.5 569.2L552.5 567.2L554.5 565.2L556.5 563.2L558.5 561.2L560.5 559.2L562.5 557.3L564.5 555.3L566.5 553.4L568.5 551.5L570.5 549.6L572.5 547.7L574.5 545.8L576.5 543.9L578.5 542.1L580.5 540.2L582.5 538.4L584.5 536.7L586.5 534.9L588.5 533.2L590.5 531.5L592.5 529.8L594.5 528.2L596.5 526.6L598.5 525.1L600.5 523.6L602.5 522.2L604.5 520.8L606.5 519.4L608.5 518.1L610.5 516.9L612.5 515.8L614.5 514.7L616.5 513.6L618.5 512.7L620.5 511.8L622.5 511.0L624.5 510.2L626.5 509.6L628.5 509.0L630.5 508.5L632.5 508.1L634.5 507.8L636.5 507.6L638.5 507.5L640.5 507.6L642.5 507.7L644.5 507.8L646.5 508.1L648.5 508.5L650.5 508.9L652.5 509.5L654.5 510.2L656.5 511.0L658.5 511.9L660.5 512.9L662.5 514.0L664.5 515.2L666.5 516.6L668.5 518.0L670.5 519.6L672.5 521.3L674.5 523.1L676.5 524.9L678.5 526.8L680.5 528.8L682.5 530.8L684.5 532.8L686.5 534.8L688.5 536.8L690.5 538.9L692.5 540.9L694.5 543.0L696.5 545.1L698.5 547.1L700.5 549.2L702.5 551.3L704.5 553.3L706.5 555.4L708.5 557.4L710.5 559.5L712.5 561.5L714.5 563.6L716.5 565.6L718.5 567.7L720.5 569.7L722.5 571.8L724.5 573.8L726.5 575.9L728.5 577.9L730.5 580.0L732.5 582.0L734.5 584.1L736.5 586.1L738.5 588.2L740.5 590.2L742.5 592.2L744.5 594.3L746.5 596.3L748.5 598.4L750.5 600.4L752.5 602.5L754.5 604.5L756.5 606.6L758.5 608.6L760.5 610.6L762.5 612.7L764.5 614.7L766.5 616.8L768.5 618.8L770.5 620.9L772.5 622.9L774.5 625.0L776.5 627.0L778.5 629.1L780.5 631.1L782.5 633.1L784.5 635.2L786.5 637.2L788.5 639.3L790.5 641.3L792.5 643.3L794.5 645.4L796.5 647.4L798.5 649.4L800.5 651.5L802.5 653.5L804.5 655.5L806.5 657.5L808.5 659.6L810.5 661.6L812.5 663.6L814.5 665.6L816.5 667.6L818.5 669.6L820.5 671.6L822.5 673.6L824.5 675.6L826.5 677.6L828.5 679.6L830.5 681.6L832.5 683.6L834.5 685.6L836.5 687.5L838.5 689.5L840.5 691.4L842.5 693.3L844.5 695.3L846.5 697.2L848.5 699.0L850.5 700.9L852.5 702.8L854.5 704.6L856.5 706.4L858.5 708.2L860.5 709.9L862.5 711.7L864.5 713.3L866.5 715.0L868.5 716.6L870.5 718.2L872.5 719.8L874.5 721.3L876.5 722.7L878.5 724.1L880.5 725.4L882.5 726.7L884.5 728.0L886.5 729.1L888.5 730.2L890.5 731.3L892.5 732.2L894.5 733.1L896.5 734.0L898.5 734.7L900.5 735.4L902.5 735.9L904.5 736.4L906.5 736.8L908.5 737.1L910.5 737.3L912.5 737.4L914.5 737.4L916.5 737.3L918.5 737.2L920.5 736.9L922.5 736.6L924.5 736.1L926.5 735.6L928.5 734.9L930.5 734.1L932.5 733.2L934.5 732.2L936.5 731.1L938.5 729.9L940.5 728.6L942.5 727.1L944.5 725.6L946.5 723.9L948.5 722.1L950.5 720.3L952.5 718.4L954.5 716.4L956.5 714.4L958.5 712.4L960.5 710.4L962.5 708.4L964.5 706.3L966.5 704.3L968.5 702.2L970.5 700.1L972.5 698.1L974.5 696.0L976.5 693.9L978.5 691.9L980.5 689.8L982.5 687.8L984.5 685.7L986.5 683.7L988.5 681.6L990.5 679.6L992.5 677.5L994.5 675.5L996.5 673.4L998.5 671.4L1000.5 669.3L1002.5 667.3L1004.5 665.2L1006.5 663.2L1008.5 661.1L1010.5 659.1L1012.5 657.0L1014.5 655.0L1016.5 653.0L1018.5 650.9L1020.5 648.9L1022.5 646.8L1024.5 644.8L1026.5 642.7L1028.5 640.7L1030.5 638.7L1032.5 636.6L1034.5 634.6L1036.5 632.5L1038.5 630.5L1040.5 628.4L1042.5 626.4L1044.5 624.3L1046.5 622.3L1048.5 620.2L1050.5 618.2L1052.5 616.2L1054.5 614.1L1056.5 612.1L1058.5 610.0L1060.5 608.0L1062.5 605.9L1064.5 603.9L1066.5 601.9L1068.5 599.8L1070.5 597.8L1072.5 595.8L1074.5 593.7L1076.5 591.7L1078.5 589.7L1080.5 587.7L1082.5 585.6L1084.5 583.6L1086.5 581.6L1088.5 579.6L1090.5 577.6L1092.5 575.6L1094.5 573.6L1096.5 571.6L1098.5 569.6L1100.5 567.6L1102.5 565.6L1104.5 563.6L1106.5 561.6L1108.5 559.6L1110.5 557.7L1112.5 555.7L1114.5 553.8L1116.5 551.9L1118.5 549.9L1120.5 548.0L1122.5 546.2L1124.5 544.3L1126.5 542.4L1128.5 540.6L1130.5 538.8L1132.5 537.0L1134.5 535.2L1136.5 533.5L1138.5 531.8L1140.5 530.2L1142.5 528.5L1144.5 526.9L1146.5 525.4L1148.5 523.9L1150.5 522.4L1152.5 521.0L1154.5 519.7L1156.5 518.4L1158.5 517.2L1160.5 516.0L1162.5 514.9L1164.5 513.8L1166.5 512.8L1168.5 511.9L1170.5 511.1L1172.5 510.4L1174.5 509.7L1176.5 509.1L1178.5 508.6L1180.5 508.2L1182.5 507.9L1184.5 507.7L1186.5 507.6L1188.5 507.6L1190.5 507.6L1192.5 507.8L1194.5 508.0L1196.5 508.4L1198.5 508.8L1200.5 509.4L1202.5 510.0L1204.5 510.8L1206.5 511.7L1208.5 512.7L1210.5 513.8L1212.5 515.0L1214.5 516.3L1216.5 517.7L1218.5 519.3L1220.5 520.9L1222.5 522.7L1224.5 524.5L1226.5 526.4L1228.5 528.4L1230.5 530.4L1232.5 532.4L1234.5 534.4L1236.5 536.4L1238.5 538.5L1240.5 540.5L1242.5 542.6L1244.5 544.7L1246.5 546.7L1248.5 548.8L1250.5 550.8L1252.5 552.9L1254.5 555.0L1256.5 557.0L1258.5 559.1L1260.5 561.1L1262.5 563.2L1264.5 565.2L1266.5 567.3L1268.5 569.3L1270.5 571.4L1272.5 573.4L1274.5 575.5L1276.5 577.5L1278.5 579.6L1280.5 581.6L1282.5 583.7L1284.5 585.7L1286.5 587.8L1288.5 589.8L1290.5 591.8L1292.5 593.9L1294.5 595.9L1296.5 598.0L1298.5 600.0L1300.5 602.1L1302.5 604.1L1304.5 606.1L1306.5 608.2L1308.5 610.2L1310.5 612.3L1312.5 614.3L1314.5 616.4L1316.5 618.4L1318.5 620.5L1320.5 622.5L1322.5 624.6L1324.5 626.6L1326.5 628.6L1328.5 630.7L1330.5 632.7L1332.5 634.8L1334.5 636.8L1336.5 638.9L1338.5 640.9L1340.5 642.9L1342.5 645.0L1344.5 647.0L1346.5 649.0L1348.5 651.1L1350.5 653.1L1352.5 655.1L1354.5 657.1L1356.5 659.2L1358.5 661.2L1360.5 663.2L1362.5 665.2L1364.5 667.2L1366.5 669.2L1368.5 671.2L1370.5 673.2L1372.5 675.2L1374.5 677.2L1376.5 679.2L1378.5 681.2L1380.5 683.2L1382.5 685.2L1384.5 687.1L1386.5 689.1L1388.5 691.0L1390.5 693.0L1392.5 694.9L1394.5 696.8L1396.5 698.7L1398.5 700.5L1400.5 702.4L1402.5 704.2L1404.5 706.0L1406.5 707.8L1408.5 709.6L1410.5 711.3L1412.5 713.0L1414.5 714.7L1416.5 716.3L1418.5 717.9L1420.5 719.4L1422.5 721.0L1424.5 722.4L1426.5 723.8L1428.5 725.2L1430.5 726.5L1432.5 727.7L1434.5 728.9L1436.5 730.0L1438.5 731.1L1440.5 732.1L1442.5 733.0L1444.5 733.8L1446.5 734.6L1448.5 735.2L1450.5 735.8L1452.5 736.3L1454.5 736.7L1456.5 737.1L1458.5 737.3L1460.5 737.4L1462.5 737.5L1464.5 737.4L1466.5 737.2L1468.5 737.0L1470.5 736.6L1472.5 736.2L1474.5 735.7L1476.5 735.0L1478.5 734.3L1480.5 733.4L1482.5 732.4L1484.5 731.4L1486.5 730.2L1488.5 728.8L1490.5 727.4L1492.5 725.9L1494.5 724.2L1496.5 722.5L1498.5 720.6L1500.5 718.8L1502.5 716.8L1504.5 714.8L1506.5 712.8L1508.5 710.8L1510.5 708.8L1512.5 706.7L1514.5 704.7L1516.5 702.6L1518.5 700.6L1520.5 698.5L1522.5 696.4L1524.5 694.4L1526.5 692.3L1528.5 690.2L1530.5 688.2L1532.5 686.1L1534.5 684.1L1536.5 682.0L1538.5 680.0L1540.5 677.9L1542.5 675.9L1544.5 673.8L1546.5 671.8L1548.5 669.7L1550.5 667.7L1552.5 665.6L1554.5 663.6L1556.5 661.5L1558.5 659.5L1560.5 657.5L1562.5 655.4L1564.5 653.4L1566.5 651.3L1568.5 649.3L1570.5 647.2L1572.5 645.2L1574.5 643.2L1576.5 641.1L1578.5 639.1L1580.5 637.0L1582.5 635.0L1584.5 632.9L1586.5 630.9L1588.5 628.8L1590.5 626.8L1592.5 624.7L1594.5 622.7L1596.5 620.7L1598.5 618.6L1600.5 616.6L1602.5 614.5L1604.5 612.5L1606.5 610.4L1608.5 608.4L1610.5 606.4L1612.5 604.3L1614.5 602.3L1616.5 600.2L1618.5 598.2L1620.5 596.2L1622.5 594.1L1624.5 592.1L1626.5 590.1L1628.5 588.1L1630.5 586.0L1632.5 584.0L1634.5 582.0L1636.5 580.0L1638.5 578.0L1640.5 576.0L1642.5 574.0L1644.5 572.0L1646.5 570.0L1648.5 568.0L1650.5 566.0L1652.5 564.0L1654.5 562.0L1656.5 560.0L1658.5 558.1L1660.5 556.1L1662.5 554.2L1664.5 552.2L1666.5 550.3L1668.5 548.4L1670.5 546.5L1672.5 544.7L1674.5 542.8L1676.5 541.0L1678.5 539.2L1680.5 537.4L1682.5 535.6L1684.5 533.9L1686.5 532.2L1688.5 530.5L1690.5 528.9L1692.5 527.3L1694.5 525.7L1696.5 524.2L1698.5 522.7L1700.5 521.3L1702.5 520.0L1704.5 518.6L1706.5 517.4L1708.5 516.2L1710.5 515.1L1712.5 514.0L1714.5 513.0L1716.5 512.1L1718.5 511.3L1720.5 510.5L1722.5 509.8L1724.5 509.2L1726.5 508.7L1728.5 508.3L1730.5 508.0L1732.5 507.7L1734.5 507.6L1736.5 507.5L1738.5 507.6L1740.5 507.8L1742.5 508.0L1744.5 508.3L1746.5 508.7L1748.5 509.3L1750.5 509.9L1752.5 510.6L1754.5 511.5L1756.5 512.4L1758.5 513.5L1760.5 514.7L1762.5 516.0L1764.5 517.4L1766.5 519.0L1768.5 520.6L1770.5 522.3L1772.5 524.2L1774.5 526.1L1776.5 528.0L1778.5 530.0L1780.5 532.0L1782.5 534.0L1784.5 536.0L1786.5 538.1L1788.5 540.1L1790.5 542.2L1792.5 544.2L1794.5 546.3L1796.5 548.4L1798.5 550.4L1800.5 552.5L1802.5 554.6L1804.5 556.6L1806.5 558.7L1808.5 560.7L1810.5 562.8L1812.5 564.8L1814.5 566.9L1816.5 568.9L1818.5 571.0L1820.5 573.0L1822.5 575.1L1824.5 577.1L1826.5 579.2" stroke="#0000ff"/>
<path d="M234.5 570.7L236.5 569.4L238.5 568.2L240.5 567.2L242.5 566.4L244.5 565.7L246.5 565.2L248.5 564.9L250.5 564.7L252.5 564.6L254.5 564.7L256.5 565.0L258.5 565.4L260.5 565.9L262.5 566.7L264.5 567.5L266.5 568.6L268.5 569.7L270.5 571.1L272.5 572.6L274.5 574.2L276.5 576.0L278.5 578.0L280.5 580.0L282.5 582.0L284.5 584.0L286.5 586.0L288.5 588.0L290.5 590.0L292.5 592.0L294.5 594.0L296.5 596.0L298.5 598.0L300.5 600.0L302.5 602.0L304.5 604.0L306.5 606.0L308.5 608.0L310.5 610.0L312.5 612.0L314.5 614.0L316.5 616.0L318.5 618.0L320.5 620.0L322.5 622.0L324.5 624.0L326.5 626.0L328.5 628.0L330.5 630.0L332.5 632.0L334.5 634.0L336.5 636.0L338.5 638.0L340.5 640.0L342.5 642.0L344.5 644.0L346.5 646.0L348.5 648.0L350.5 650.0L352.5 652.0L354.5 654.0L356.5 656.0L358.5 658.0L360.5 660.0L362.5 662.0L364.5 664.0L366.5 666.0L368.5 668.0L370.5 669.9L372.5 671.6L374.5 673.2L376.5 674.6L378.5 675.8L380.5 677.0L382.5 677.9L384.5 678.7L386.5 679.4L388.5 679.8L390.5 680.2L392.5 680.4L394.5 680.4L396.5 680.3L398.5 680.0L400.5 679.5L402.5 679.0L404.5 678.2L406.5 677.3L408.5 676.2L410.5 675.0L412.5 673.7L414.5 672.2L416.5 670.5L418.5 668.6L420.5 666.7L422.5 664.7L424.5 662.7L426.5 660.7L428.5 658.7L430.5 656.7L432.5 654.7L434.5 652.7L436.5 650.7L438.5 648.7L440.5 646.7L442.5 644.7L444.5 642.7L446.5 640.7L448.5 638.7L450.5 636.7L452.5 634.7L454.5 632.7L456.5 630.7L458.5 628.7L460.5 626.7L462.5 624.7L464.5 622.7L466.5 620.7L468.5 618.7L470.5 616.7L472.5 614.7L474.5 612.7L476.5 610.7L478.5 608.7L480.5 606.7L482.5 604.7L484.5 602.7L486.5 600.7L488.5 598.7L490.5 596.7L492.5 594.7L494.5 592.7L496.5 590.7L498.5 588.7L500.5 586.7L502.5 584.7L504.5 582.7L506.5 580.7L508.5 578.7L510.5 576.7L512.5 574.8L514.5 573.1L516.5 571.6L518.5 570.2L520.5 569.0L522.5 567.9L524.5 566.9L526.5 566.2L528.5 565.5L530.5 565.1L532.5 564.8L534.5 564.6L536.5 564.6L538.5 564.8L540.5 565.1L542.5 565.5L544.5 566.2L546.5 566.9L548.5 567.9L550.5 569.0L552.5 570.2L554.5 571.6L556.5 573.1L558.5 574.8L560.5 576.7L562.5 578.7L564.5 580.7L566.5 582.7L568.5 584.7L570.5 586.7L572.5 588.7L574.5 590.7L576.5 592.7L578.5 594.7L580.5 596.7L582.5 598.7L584.5 600.7L586.5 602.7L588.5 604.7L590.5 606.7L592.5 608.7L594.5 610.7L596.5 612.7L598.5 614.7L600.5 616.7L602.5 618.7L604.5 620.7L606.5 622.7L608.5 624.7L610.5 626.7L612.5 628.7L614.5 630.7L616.5 632.7L618.5 634.7L620.5 636.7L622.5 638.7L624.5 640.7L626.5 642.7L628.5 644.7L630.5 646.7L632.5 648.7L634.5 650.7L636.5 652.7L638.5 654.7L640.5 656.7L642.5 658.7L644.5 660.7L646.5 662.7L648.5 664.7L650.5 666.7L652.5 668.6L654.5 670.5L656.5 672.2L658.5 673.7L660.5 675.0L662.5 676.2L664.5 677.3L666.5 678.2L668.5 679.0L670.5 679.5L672.5 680.0L674.5 680.3L676.5 680.4L678.5 680.4L680.5 680.2L682.5 679.8L684.5 679.4L686.5 678.7L688.5 677.9L690.5 677.0L692.5 675.8L694.5 674.6L696.5 673.2L698.5 671.6L700.5 669.9L702.5 668.0L704.5 666.0L706.5 664.0L708.5 662.0L710.5 660.0L712.5 658.0L714.5 656.0L716.5 654.0L718.5 652.0L720.5 650.0L722.5 648.0L724.5 646.0L726.5 644.0L728.5 642.0L730.5 640.0L732.5 638.0L734.5 636.0L736.5 634.0L738.5 632.0L740.5 630.0L742.5 628.0L744.5 626.0L746.5 624.0L748.5 622.0L750.5 620.0L752.5 618.0L754.5 616.0L756.5 614.0L758.5 612.0L760.5 610.0L762.5 608.0L764.5 606.0L766.5 604.0L768.5 602.0L770.5 600.0L772.5 598.0L774.5 596.0L776.5 594.0L778.5 592.0L780.5 590.0L782.5 588.0L784.5 586.0L786.5 584.0L788.5 582.0L790.5 580.0L792.5 578.0L794.5 576.0L796.5 574.2L798.5 572.6L800.5 571.1L802.5 569.7L804.5 568.6L806.5 567.5L808.5 566.7L810.5 565.9L812.5 565.4L814.5 565.0L816.5 564.7L818.5 564.6L820.5 564.7L822.5 564.9L824.5 565.2L826.5 565.7L828.5 566.4L830.5 567.2L832.5 568.2L834.5 569.4L836.5 570.7L838.5 572.1L840.5 573.7L842.5 575.5L844.5 577.4L846.5 579.4L848.5 581.4L850.5 583.4L852.5 585.4L854.5 587.4L856.5 589.4L858.5 591.4L860.5 593.4L862.5 595.4L864.5 597.4L866.5 599.4L868.5 601.4L870.5 603.4L872.5 605.4L874.5 607.4L876.5 609.4L878.5 611.4L880.5 613.4L882.5 615.4L884.5 617.4L886.5 619.4L888.5 621.4L890.5 623.4L892.5 625.4L894.5 627.4L896.5 629.4L898.5 631.4L900.5 633.4L902.5 635.4L904.5 637.4L906.5 639.4L908.5 641.4L910.5 643.4L912.5 645.4L914.5 647.4L916.5 649.4L918.5 651.4L920.5 653.4L922.5 655.4L924.5 657.4L926.5 659.4L928.5 661.4L930.5 663.4L932.5 665.4L934.5 667.4L936.5 669.3L938.5 671.1L940.5 672.7L942.5 674.2L944.5 675.5L946.5 676.6L948.5 677.6L950.5 678.5L952.5 679.2L954.5 679.7L956.5 680.1L958.5 680.3L960.5 680.4L962.5 680.3L964.5 680.1L966.5 679.7L968.5 679.1L970.5 678.4L972.5 677.6L974.5 676.6L976.5 675.4L978.5 674.1L980.5 672.6L982.5 671.0L984.5 669.2L986.5 667.3L988.5 665.3L990.5 663.3L992.5 661.3L994.5 659.3L996.5 657.3L998.5 655.3L1000.5 653.3L1002.5 651.3L1004.5 649.3L1006.5 647.3L1008.5 645.3L1010.5 643.3L1012.5 641.3L1014.5 639.3L1016.5 637.3L1018.5 635.3L1020.5 633.3L1022.5 631.3L1024.5 629.3L1026.5 627.3L1028.5 625.3L1030.5 623.3L1032.5 621.3L1034.5 619.3L1036.5 617.3L1038.5 615.3L1040.5 613.3L1042.5 611.3L1044.5 609.3L1046.5 607.3L1048.5 605.3L1050.5 603.3L1052.5 601.3L1054.5 599.3L1056.5 597.3L1058.5 595.3L1060.5 593.3L1062.5 591.3L1064.5 589.3L1066.5 587.3L1068.5 585.3L1070.5 583.3L1072.5 581.3L1074.5 579.3L1076.5 577.3L1078.5 575.4L1080.5 573.6L1082.5 572.0L1084.5 570.6L1086.5 569.3L1088.5 568.2L1090.5 567.2L1092.5 566.4L1094.5 565.7L1096.5 565.2L1098.5 564.9L1100.5 564.6L1102.5 564.6L1104.5 564.7L1106.5 565.0L1108.5 565.4L1110.5 566.0L1112.5 566.7L1114.5 567.6L1116.5 568.6L1118.5 569.8L1120.5 571.1L1122.5 572.6L1124.5 574.3L1126.5 576.1L1128.5 578.1L1130.5 580.1L1132.5 582.1L1134.5 584.1L1136.5 586.1L1138.5 588.1L1140.5 590.1L1142.5 592.1L1144.5 594.1L1146.5 596.1L1148.5 598.1L1150.5 600.1L1152.5 602.1L1154.5 604.1L1156.5 606.1L1158.5 608.1L1160.5 610.1L1162.5 612.1L1164.5 614.1L1166.5 616.1L1168.5 618.1L1170.5 620.1L1172.5 622.1L1174.5 624.1L1176.5 626.1L1178.5 628.1L1180.5 630.1L1182.5 632.1L1184.5 634.1L1186.5 636.1L1188.5 638.1L1190.5 640.1L1192.5 642.1L1194.5 644.1L1196.5 646.1L1198.5 648.1L1200.5 650.1L1202.5 652.1L1204.5 654.1L1206.5 656.1L1208.5 658.1L1210.5 660.1L1212.5 662.1L1214.5 664.1L1216.5 666.1L1218.5 668.1L1220.5 669.9L1222.5 671.7L1224.5 673.2L1226.5 674.6L1228.5 675.9L1230.5 677.0L1232.5 678.0L1234.5 678.7L1236.5 679.4L1238.5 679.9L1240.5 680.2L1242.5 680.4L1244.5 680.4L1246.5 680.3L1248.5 680.0L1250.5 679.5L1252.5 678.9L1254.5 678.2L1256.5 677.3L1258.5 676.2L1260.5 675.0L1262.5 673.6L1264.5 672.1L1266.5 670.4L1268.5 668.6L1270.5 666.6L1272.5 664.6L1274.5 662.6L1276.5 660.6L1278.5 658.6L1280.5 656.6L1282.5 654.6L1284.5 652.6L1286.5 650.6L1288.5 648.6L1290.5 646.6L1292.5 644.6L1294.5 642.6L1296.5 640.6L1298.5 638.6L1300.5 636.6L1302.5 634.6L1304.5 632.6L1306.5 630.6L1308.5 628.6L1310.5 626.6L1312.5 624.6L1314.5 622.6L1316.5 620.6L1318.5 618.6L1320.5 616.6L1322.5 614.6L1324.5 612.6L1326.5 610.6L1328.5 608.6L1330.5 606.6L1332.5 604.6L1334.5 602.6L1336.5 600.6L1338.5 598.6L1340.5 596.6L1342.5 594.6L1344.5 592.6L1346.5 590.6L1348.5 588.6L1350.5 586.6L1352.5 584.6L1354.5 582.6L1356.5 580.6L1358.5 578.6L1360.5 576.6L1362.5 574.7L1364.5 573.0L1366.5 571.5L1368.5 570.1L1370.5 568.9L1372.5 567.8L1374.5 566.9L1376.5 566.1L1378.5 565.5L1380.5 565.1L1382.5 564.8L1384.5 564.6L1386.5 564.6L1388.5 564.8L1390.5 565.1L1392.5 565.6L1394.5 566.2L1396.5 567.0L1398.5 567.9L1400.5 569.0L1402.5 570.3L1404.5 571.7L1406.5 573.2L1408.5 574.9L1410.5 576.8L1412.5 578.8L1414.5 580.8L1416.5 582.8L1418.5 584.8L1420.5 586.8L1422.5 588.8L1424.5 590.8L1426.5 592.8L1428.5 594.8L1430.5 596.8L1432.5 598.8L1434.5 600.8L1436.5 602.8L1438.5 604.8L1440.5 606.8L1442.5 608.8L1444.5 610.8L1446.5 612.8L1448.5 614.8L1450.5 616.8L1452.5 618.8L1454.5 620.8L1456.5 622.8L1458.5 624.8L1460.5 626.8L1462.5 628.8L1464.5 630.8L1466.5 632.8L1468.5 634.8L1470.5 636.8L1472.5 638.8L1474.5 640.8L1476.5 642.8L1478.5 644.8L1480.5 646.8L1482.5 648.8L1484.5 650.8L1486.5 652.8L1488.5 654.8L1490.5 656.8L1492.5 658.8L1494.5 660.8L1496.5 662.8L1498.5 664.8L1500.5 666.8L1502.5 668.7L1504.5 670.6L1506.5 672.2L1508.5 673.7L1510.5 675.1L1512.5 676.3L1514.5 677.4L1516.5 678.2L1518.5 679.0L1520.5 679.6L1522.5 680.0L1524.5 680.3L1526.5 680.4L1528.5 680.4L1530.5 680.2L1532.5 679.8L1534.5 679.3L1536.5 678.7L1538.5 677.9L1540.5 676.9L1542.5 675.8L1544.5 674.5L1546.5 673.1L1548.5 671.5L1550.5 669.8L1552.5 667.9L1554.5 665.9L1556.5 663.9L1558.5 661.9L1560.5 659.9L1562.5 657.9L1564.5 655.9L1566.5 653.9L1568.5 651.9L1570.5 649.9L1572.5 647.9L1574.5 645.9L1576.5 643.9L1578.5 641.9L1580.5 639.9L1582.5 637.9L1584.5 635.9L1586.5 633.9L1588.5 631.9L1590.5 629.9L1592.5 627.9L1594.5 625.9L1596.5 623.9L1598.5 621.9L1600.5 619.9L1602.5 617.9L1604.5 615.9L1606.5 613.9L1608.5 611.9L1610.5 609.9L1612.5 607.9L1614.5 605.9L1616.5 603.9L1618.5 601.9L1620.5 599.9L1622.5 597.9L1624.5 595.9L1626.5 593.9L1628.5 591.9L1630.5 589.9L1632.5 587.9L1634.5 585.9L1636.5 583.9L1638.5 581.9L1640.5 579.9L1642.5 577.9L1644.5 575.9L1646.5 574.1L1648.5 572.5L1650.5 571.0L1652.5 569.7L1654.5 568.5L1656.5 567.5L1658.5 566.6L1660.5 565.9L1662.5 565.3L1664.5 564.9L1666.5 564.7L1668.5 564.6L1670.5 564.7L1672.5 564.9L1674.5 565.3L1676.5 565.8L1678.5 566.5L1680.5 567.3L1682.5 568.3L1684.5 569.4L1686.5 570.7L1688.5 572.2L1690.5 573.8L1692.5 575.6L1694.5 577.5L1696.5 579.5L1698.5 581.5L1700.5 583.5L1702.5 585.5L1704.5 587.5L1706.5 589.5L1708.5 591.5L1710.5 593.5L1712.5 595.5L1714.5 597.5L1716.5 599.5L1718.5 601.5L1720.5 603.5L1722.5 605.5L1724.5 607.5L1726.5 609.5L1728.5 611.5L1730.5 613.5L1732.5 615.5L1734.5 617.5L1736.5 619.5L1738.5 621.5L1740.5 623.5L1742.5 625.5L1744.5 627.5L1746.5 629.5L1748.5 631.5L1750.5 633.5L1752.5 635.5L1754.5 637.5L1756.5 639.5L1758.5 641.5L1760.5 643.5L1762.5 645.5L1764.5 647.5L1766.5 649.5L1768.5 651.5L1770.5 653.5L1772.5 655.5L1774.5 657.5L1776.5 659.5L1778.5 661.5L1780.5 663.5L1782.5 665.5L1784.5 667.5L1786.5 669.4L1788.5 671.2L1790.5 672.8L1792.5 674.2L1794.5 675.5L1796.5 676.7L1798.5 677.7L1800.5 678.5L1802.5 679.2L1804.5 679.7L1806.5 680.1L1808.5 680.3L1810.5 680.4L1812.5 680.3L1814.5 680.1L1816.5 679.7L1818.5 679.1L1820.5 678.4L1822.5 677.5L1824.5 676.5L1826.5 675.4" stroke="#ff00ff"/>
</g>
<g class="tk" text-anchor="end">
<text x="213.4" y="53.30">2.0</text>
<text x="213.4" y="199.30">1.5</text>
<text x="213.4" y="345.30">1.0</text>
<text x="213.4" y="491.30">0.5</text>
<text x="213.4" y="637.30">0.0</text>
<text x="213.4" y="783.30">-0.5</text>
<text x="213.4" y="929.30">-1.0</text>
<text x="213.4" y="1075.30">-1.5</text>
<text x="213.4" y="1221.30">-2.0</text>
</g>
<g class="tk" text-anchor="middle">
<text x="239.00" y="1270.8">0</text>
<text x="635.00" y="1270.8">5</text>
<text x="1031.00" y="1270.8">10</text>
<text x="1427.00" y="1270.8">15</text>
<text x="1823.00" y="1270.8">20</text>
</g>
<g stroke-width="7" stroke-linecap="round" fill="none">
<line x1="878.5" y1="85.5" x2="1018.5" y2="85.5" stroke="#000000"/>
<line x1="1344.5" y1="85.5" x2="1484.5" y2="85.5" stroke="#ff0000"/>
<line x1="878.5" y1="163" x2="1018.5" y2="163" stroke="#0000ff"/>
<line x1="1344.5" y1="163" x2="1484.5" y2="163" stroke="#ff00ff"/>
</g>
<g class="lg" letter-spacing="0.2">
<text x="1035.5" y="107.3"><tspan font-style="italic">n</tspan>=800 rpm</text>
<text x="1501.5" y="107.3"><tspan font-style="italic">n</tspan>=1000 rpm</text>
<text x="1035.5" y="184.8"><tspan font-style="italic">n</tspan>=2000 rpm</text>
<text x="1501.5" y="184.8"><tspan font-style="italic">n</tspan>=4000 rpm</text>
</g>
<text class="ti" x="1030.2" y="1380" text-anchor="middle" letter-spacing="0.7">time (ms)</text>
<g transform="rotate(-90)" font-weight="bold">
<text x="-800.0" y="75.0" font-size="66.7px" font-style="italic">v</text>
<text x="-768.7" y="98.5" font-size="40.0px">p</text>
<text x="-735.5" y="75.0" font-size="66.7px">(</text>
<text x="-711.0" y="75.0" font-size="66.7px">m</text>
<text x="-654.8" y="73.5" font-size="44.5px">·</text>
<text x="-639.0" y="75.0" font-size="66.7px">s</text>
<text x="-612.8" y="42.0" font-size="42.0px">-1</text>
<text x="-579.5" y="75.0" font-size="66.7px">)</text>
</g>
</svg></body></html>
